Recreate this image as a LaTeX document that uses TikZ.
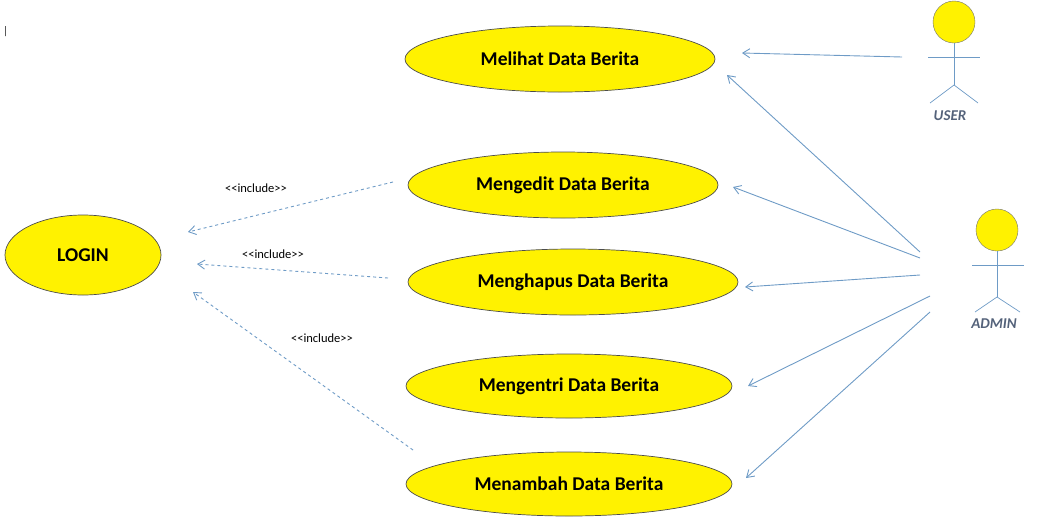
\documentclass[tikz,border=0pt]{standalone}
\usepackage{fontspec}
\setmainfont{Carlito}
\usetikzlibrary{arrows.meta,shapes.geometric}
\definecolor{lnc}{HTML}{6E9BC6}
\definecolor{actc}{HTML}{54627A}
\begin{document}
\begin{tikzpicture}[x=1pt,y=-1pt,
  uc/.style={ellipse,draw=black!70,fill=yellow,line width=0.7pt,font=\fontsize{19.5}{22}\selectfont\bfseries,inner sep=0pt},
  ln/.style={draw=lnc,line width=0.9pt,-{Straight Barb[length=7pt,width=9pt]}},
  dl/.style={ln,dashed},
  lab/.style={font=\fontsize{12.5}{14}\selectfont},
  act/.style={draw=lnc,line width=0.7pt},
  actlab/.style={font=\fontsize{15}{16}\selectfont\bfseries\itshape,text=actc}]
\useasboundingbox (0,0) rectangle (1039,523);
\node[uc,minimum width=310,minimum height=66] (melihat) at (560,59) {Melihat Data Berita};
\node[uc,minimum width=310,minimum height=66] (edit) at (563,185) {Mengedit Data Berita};
\node[uc,minimum width=330,minimum height=66] (hapus) at (573,282) {Menghapus Data Berita};
\node[uc,minimum width=326,minimum height=64] (entri) at (569,386) {Mengentri Data Berita};
\node[uc,minimum width=326,minimum height=64] (tambah) at (569,484) {Menambah Data Berita};
\node[uc,minimum width=156,minimum height=80] (login) at (83,255) {LOGIN};
\node[draw=black,line width=0.5pt,minimum width=0,minimum height=10,inner sep=0pt] (cursor) at (5,31) {};
% USER actor
\node[circle,draw=black!55,fill=yellow,minimum size=42,inner sep=0pt] (uhead) at (954,22) {};
\draw[act] (uhead.south) -- (954,85) coordinate (uhip);
\draw[act] (928,57) -- (980,57);
\draw[act] (uhip) -- (930,103); \draw[act] (uhip) -- (978,103);
\node[actlab] (user) at (950,116) {USER};
% ADMIN actor
\node[circle,draw=black!55,fill=yellow,minimum size=42,inner sep=0pt] (ahead) at (997,230) {};
\draw[act] (ahead.south) -- (997,297) coordinate (ahip);
\draw[act] (972,265) -- (1024,265);
\draw[act] (ahip) -- (975,312); \draw[act] (ahip) -- (1020,312);
\node[actlab] (admin) at (994,324) {ADMIN};
% arrows
\coordinate (u1) at (902,57); \coordinate (m1) at (742,53);
\coordinate (a1) at (920,252); \coordinate (m2) at (727,75);
\coordinate (a2) at (920,258); \coordinate (e1) at (733,187);
\coordinate (a3) at (920,275); \coordinate (h1) at (745,287);
\coordinate (a4) at (930,296); \coordinate (n1) at (748,386);
\coordinate (a5) at (930,312); \coordinate (t1) at (746,478);
\draw[ln] (u1) -- (m1);
\draw[ln] (a1) -- (m2);
\draw[ln] (a2) -- (e1);
\draw[ln] (a3) -- (h1);
\draw[ln] (a4) -- (n1);
\draw[ln] (a5) -- (t1);
\coordinate (d1) at (393,182); \coordinate (l1) at (188,232);
\coordinate (d2) at (388,278); \coordinate (l2) at (197,264);
\coordinate (d3) at (413,450); \coordinate (l3) at (193,292);
\draw[dl] (d1) -- (l1);
\draw[dl] (d2) -- (l2);
\draw[dl] (d3) -- (l3);
\node[lab] (i1) at (256,188) {<{}<include>{}>};
\node[lab] (i2) at (273,254) {<{}<include>{}>};
\node[lab] (i3) at (322,338) {<{}<include>{}>};
\end{tikzpicture}
\end{document}
